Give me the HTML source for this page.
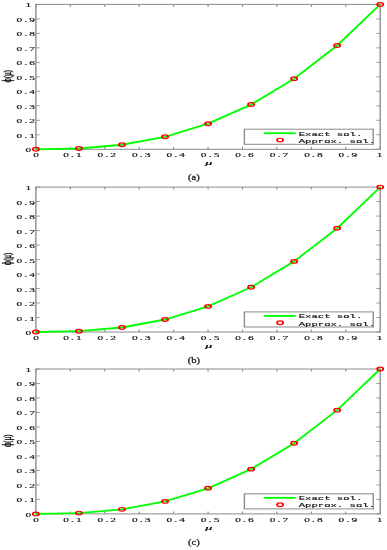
<!DOCTYPE html>
<html><head><meta charset="utf-8"><title>Figure</title>
<style>html,body{margin:0;padding:0;background:#fff;}svg{display:block;}</style></head>
<body><svg width="387" height="550" viewBox="0 0 387 550">
<rect width="387" height="550" fill="#fff"/>
<g transform="translate(0,0)">
<path d="M35.23 4.4H380.88M35.23 149.3H380.88" stroke="#8a8a8a" stroke-width="1.0" fill="none"/>
<path d="M35.9 4.4V149.3M380.2 4.4V149.3" stroke="#8a8a8a" stroke-width="1.35" fill="none"/>
<path d="M35.9 149.3v-2.5M35.9 4.4v2.5M70.33 149.3v-2.5M70.33 4.4v2.5M104.76 149.3v-2.5M104.76 4.4v2.5M139.19 149.3v-2.5M139.19 4.4v2.5M173.62 149.3v-2.5M173.62 4.4v2.5M208.05 149.3v-2.5M208.05 4.4v2.5M242.48 149.3v-2.5M242.48 4.4v2.5M276.91 149.3v-2.5M276.91 4.4v2.5M311.34 149.3v-2.5M311.34 4.4v2.5M345.77 149.3v-2.5M345.77 4.4v2.5M380.2 149.3v-2.5M380.2 4.4v2.5" stroke="#8a8a8a" stroke-width="1.1" fill="none"/>
<path d="M35.9 149.3h4.0M380.2 149.3h-4.0M35.9 134.81h4.0M380.2 134.81h-4.0M35.9 120.32h4.0M380.2 120.32h-4.0M35.9 105.83h4.0M380.2 105.83h-4.0M35.9 91.34h4.0M380.2 91.34h-4.0M35.9 76.85h4.0M380.2 76.85h-4.0M35.9 62.36h4.0M380.2 62.36h-4.0M35.9 47.87h4.0M380.2 47.87h-4.0M35.9 33.38h4.0M380.2 33.38h-4.0M35.9 18.89h4.0M380.2 18.89h-4.0M35.9 4.4h4.0M380.2 4.4h-4.0" stroke="#8a8a8a" stroke-width="0.8" fill="none"/>
<text x="36.15" y="0" transform="translate(0,157.1) scale(1,0.47)" text-anchor="middle" style="font-family:'Liberation Serif',serif;font-size:11.5px;font-weight:normal;fill:#111;stroke:#111;stroke-width:0.25px">0</text>
<text x="66.03 72.43 78.83" y="0" transform="translate(0,157.1) scale(1,0.47)" text-anchor="middle" style="font-family:'Liberation Serif',serif;font-size:11.5px;font-weight:normal;fill:#111;stroke:#111;stroke-width:0.25px">0.1</text>
<text x="100.46 106.86 113.26" y="0" transform="translate(0,157.1) scale(1,0.47)" text-anchor="middle" style="font-family:'Liberation Serif',serif;font-size:11.5px;font-weight:normal;fill:#111;stroke:#111;stroke-width:0.25px">0.2</text>
<text x="134.89 141.29 147.69" y="0" transform="translate(0,157.1) scale(1,0.47)" text-anchor="middle" style="font-family:'Liberation Serif',serif;font-size:11.5px;font-weight:normal;fill:#111;stroke:#111;stroke-width:0.25px">0.3</text>
<text x="169.32 175.72 182.12" y="0" transform="translate(0,157.1) scale(1,0.47)" text-anchor="middle" style="font-family:'Liberation Serif',serif;font-size:11.5px;font-weight:normal;fill:#111;stroke:#111;stroke-width:0.25px">0.4</text>
<text x="203.75 210.15 216.55" y="0" transform="translate(0,157.1) scale(1,0.47)" text-anchor="middle" style="font-family:'Liberation Serif',serif;font-size:11.5px;font-weight:normal;fill:#111;stroke:#111;stroke-width:0.25px">0.5</text>
<text x="238.18 244.58 250.98" y="0" transform="translate(0,157.1) scale(1,0.47)" text-anchor="middle" style="font-family:'Liberation Serif',serif;font-size:11.5px;font-weight:normal;fill:#111;stroke:#111;stroke-width:0.25px">0.6</text>
<text x="272.61 279.01 285.41" y="0" transform="translate(0,157.1) scale(1,0.47)" text-anchor="middle" style="font-family:'Liberation Serif',serif;font-size:11.5px;font-weight:normal;fill:#111;stroke:#111;stroke-width:0.25px">0.7</text>
<text x="307.04 313.44 319.84" y="0" transform="translate(0,157.1) scale(1,0.47)" text-anchor="middle" style="font-family:'Liberation Serif',serif;font-size:11.5px;font-weight:normal;fill:#111;stroke:#111;stroke-width:0.25px">0.8</text>
<text x="341.47 347.87 354.27" y="0" transform="translate(0,157.1) scale(1,0.47)" text-anchor="middle" style="font-family:'Liberation Serif',serif;font-size:11.5px;font-weight:normal;fill:#111;stroke:#111;stroke-width:0.25px">0.9</text>
<text x="379.6" y="0" transform="translate(0,157.1) scale(1,0.47)" text-anchor="middle" style="font-family:'Liberation Serif',serif;font-size:11.5px;font-weight:normal;fill:#111;stroke:#111;stroke-width:0.25px">1</text>
<text x="28.4" y="0" transform="translate(0,152.3) scale(1,0.47)" text-anchor="middle" style="font-family:'Liberation Serif',serif;font-size:11.5px;font-weight:normal;fill:#111;stroke:#111;stroke-width:0.25px">0</text>
<text x="19.4 25.8 32.2" y="0" transform="translate(0,137.81) scale(1,0.47)" text-anchor="middle" style="font-family:'Liberation Serif',serif;font-size:11.5px;font-weight:normal;fill:#111;stroke:#111;stroke-width:0.25px">0.1</text>
<text x="19.4 25.8 32.2" y="0" transform="translate(0,123.32) scale(1,0.47)" text-anchor="middle" style="font-family:'Liberation Serif',serif;font-size:11.5px;font-weight:normal;fill:#111;stroke:#111;stroke-width:0.25px">0.2</text>
<text x="19.4 25.8 32.2" y="0" transform="translate(0,108.83) scale(1,0.47)" text-anchor="middle" style="font-family:'Liberation Serif',serif;font-size:11.5px;font-weight:normal;fill:#111;stroke:#111;stroke-width:0.25px">0.3</text>
<text x="19.4 25.8 32.2" y="0" transform="translate(0,94.34) scale(1,0.47)" text-anchor="middle" style="font-family:'Liberation Serif',serif;font-size:11.5px;font-weight:normal;fill:#111;stroke:#111;stroke-width:0.25px">0.4</text>
<text x="19.4 25.8 32.2" y="0" transform="translate(0,79.85) scale(1,0.47)" text-anchor="middle" style="font-family:'Liberation Serif',serif;font-size:11.5px;font-weight:normal;fill:#111;stroke:#111;stroke-width:0.25px">0.5</text>
<text x="19.4 25.8 32.2" y="0" transform="translate(0,65.36) scale(1,0.47)" text-anchor="middle" style="font-family:'Liberation Serif',serif;font-size:11.5px;font-weight:normal;fill:#111;stroke:#111;stroke-width:0.25px">0.6</text>
<text x="19.4 25.8 32.2" y="0" transform="translate(0,50.87) scale(1,0.47)" text-anchor="middle" style="font-family:'Liberation Serif',serif;font-size:11.5px;font-weight:normal;fill:#111;stroke:#111;stroke-width:0.25px">0.7</text>
<text x="19.4 25.8 32.2" y="0" transform="translate(0,36.38) scale(1,0.47)" text-anchor="middle" style="font-family:'Liberation Serif',serif;font-size:11.5px;font-weight:normal;fill:#111;stroke:#111;stroke-width:0.25px">0.8</text>
<text x="19.4 25.8 32.2" y="0" transform="translate(0,21.89) scale(1,0.47)" text-anchor="middle" style="font-family:'Liberation Serif',serif;font-size:11.5px;font-weight:normal;fill:#111;stroke:#111;stroke-width:0.25px">0.9</text>
<text x="28.4" y="0" transform="translate(0,7.4) scale(1,0.47)" text-anchor="middle" style="font-family:'Liberation Serif',serif;font-size:11.5px;font-weight:normal;fill:#111;stroke:#111;stroke-width:0.25px">1</text>
<polyline points="35.9,149.3 78.94,148.5 121.97,144.77 165.01,136.82 208.05,123.69 251.09,104.55 294.12,78.71 337.16,45.53 380.2,4.4" fill="none" stroke="#00ff00" stroke-width="1.85" stroke-linejoin="round"/>
<path d="M31.9 149.3a4.0 2.45 0 1 0 8 0a4.0 2.45 0 1 0 -8 0ZM33.85 149.3a2.05 1.25 0 1 0 4.1 0a2.05 1.25 0 1 0 -4.1 0Z" fill="#ff0000" fill-rule="evenodd"/>
<path d="M74.94 148.5a4.0 2.45 0 1 0 8 0a4.0 2.45 0 1 0 -8 0ZM76.89 148.5a2.05 1.25 0 1 0 4.1 0a2.05 1.25 0 1 0 -4.1 0Z" fill="#ff0000" fill-rule="evenodd"/>
<path d="M117.97 144.77a4.0 2.45 0 1 0 8 0a4.0 2.45 0 1 0 -8 0ZM119.92 144.77a2.05 1.25 0 1 0 4.1 0a2.05 1.25 0 1 0 -4.1 0Z" fill="#ff0000" fill-rule="evenodd"/>
<path d="M161.01 136.82a4.0 2.45 0 1 0 8 0a4.0 2.45 0 1 0 -8 0ZM162.96 136.82a2.05 1.25 0 1 0 4.1 0a2.05 1.25 0 1 0 -4.1 0Z" fill="#ff0000" fill-rule="evenodd"/>
<path d="M204.05 123.69a4.0 2.45 0 1 0 8 0a4.0 2.45 0 1 0 -8 0ZM206 123.69a2.05 1.25 0 1 0 4.1 0a2.05 1.25 0 1 0 -4.1 0Z" fill="#ff0000" fill-rule="evenodd"/>
<path d="M247.09 104.55a4.0 2.45 0 1 0 8 0a4.0 2.45 0 1 0 -8 0ZM249.04 104.55a2.05 1.25 0 1 0 4.1 0a2.05 1.25 0 1 0 -4.1 0Z" fill="#ff0000" fill-rule="evenodd"/>
<path d="M290.12 78.71a4.0 2.45 0 1 0 8 0a4.0 2.45 0 1 0 -8 0ZM292.07 78.71a2.05 1.25 0 1 0 4.1 0a2.05 1.25 0 1 0 -4.1 0Z" fill="#ff0000" fill-rule="evenodd"/>
<path d="M333.16 45.53a4.0 2.45 0 1 0 8 0a4.0 2.45 0 1 0 -8 0ZM335.11 45.53a2.05 1.25 0 1 0 4.1 0a2.05 1.25 0 1 0 -4.1 0Z" fill="#ff0000" fill-rule="evenodd"/>
<path d="M376.2 4.4a4.0 2.45 0 1 0 8 0a4.0 2.45 0 1 0 -8 0ZM378.15 4.4a2.05 1.25 0 1 0 4.1 0a2.05 1.25 0 1 0 -4.1 0Z" fill="#ff0000" fill-rule="evenodd"/>
<rect x="244.4" y="129.2" width="128.8" height="15.1" fill="#fff"/>
<path d="M243.72 129.2H373.88M243.72 144.3H373.88" stroke="#8a8a8a" stroke-width="1.0" fill="none"/>
<path d="M244.4 129.2V144.3M373.2 129.2V144.3" stroke="#8a8a8a" stroke-width="1.35" fill="none"/>
<path d="M264.1 133.2H295.7" stroke="#00ff00" stroke-width="1.85"/>
<path d="M276.1 140.1a4.0 2.45 0 1 0 8 0a4.0 2.45 0 1 0 -8 0ZM278.05 140.1a2.05 1.25 0 1 0 4.1 0a2.05 1.25 0 1 0 -4.1 0Z" fill="#ff0000" fill-rule="evenodd"/>
<text transform="translate(298.7,135.6) scale(1,0.5)" text-anchor="start" style="font-family:'Liberation Mono',monospace;font-size:10.6px;font-weight:normal;fill:#111;stroke:#111;stroke-width:0.3px">Exact sol.</text>
<text transform="translate(298.7,142.8) scale(1,0.5)" text-anchor="start" style="font-family:'Liberation Mono',monospace;font-size:10.6px;font-weight:normal;fill:#111;stroke:#111;stroke-width:0.3px">Approx. sol.</text>
<text transform="translate(208.9,165) scale(1,0.45)" text-anchor="middle" style="font-family:'Liberation Serif',serif;font-style:italic;font-weight:bold;font-size:13px;fill:#111">μ</text>
<text transform="translate(10.5,76.3) scale(1,0.62) rotate(-90)" text-anchor="middle" style="font-family:'Liberation Serif',serif;font-weight:normal;font-size:11.5px;fill:#111;stroke:#111;stroke-width:0.5px"><tspan font-size="13.5px">ϕ</tspan><tspan font-size="10px">(</tspan>μ<tspan font-size="10px">)</tspan></text>
<text x="0" y="0" transform="translate(193.8,180) scale(1,0.86)" text-anchor="middle" style="font-family:'Liberation Serif',serif;font-size:10.5px;fill:#111;stroke:#111;stroke-width:0.3px">(a)</text>
</g><g transform="translate(0,182.7)">
<path d="M35.23 4.4H380.88M35.23 149.3H380.88" stroke="#8a8a8a" stroke-width="1.0" fill="none"/>
<path d="M35.9 4.4V149.3M380.2 4.4V149.3" stroke="#8a8a8a" stroke-width="1.35" fill="none"/>
<path d="M35.9 149.3v-2.5M35.9 4.4v2.5M70.33 149.3v-2.5M70.33 4.4v2.5M104.76 149.3v-2.5M104.76 4.4v2.5M139.19 149.3v-2.5M139.19 4.4v2.5M173.62 149.3v-2.5M173.62 4.4v2.5M208.05 149.3v-2.5M208.05 4.4v2.5M242.48 149.3v-2.5M242.48 4.4v2.5M276.91 149.3v-2.5M276.91 4.4v2.5M311.34 149.3v-2.5M311.34 4.4v2.5M345.77 149.3v-2.5M345.77 4.4v2.5M380.2 149.3v-2.5M380.2 4.4v2.5" stroke="#8a8a8a" stroke-width="1.1" fill="none"/>
<path d="M35.9 149.3h4.0M380.2 149.3h-4.0M35.9 134.81h4.0M380.2 134.81h-4.0M35.9 120.32h4.0M380.2 120.32h-4.0M35.9 105.83h4.0M380.2 105.83h-4.0M35.9 91.34h4.0M380.2 91.34h-4.0M35.9 76.85h4.0M380.2 76.85h-4.0M35.9 62.36h4.0M380.2 62.36h-4.0M35.9 47.87h4.0M380.2 47.87h-4.0M35.9 33.38h4.0M380.2 33.38h-4.0M35.9 18.89h4.0M380.2 18.89h-4.0M35.9 4.4h4.0M380.2 4.4h-4.0" stroke="#8a8a8a" stroke-width="0.8" fill="none"/>
<text x="36.15" y="0" transform="translate(0,157.1) scale(1,0.47)" text-anchor="middle" style="font-family:'Liberation Serif',serif;font-size:11.5px;font-weight:normal;fill:#111;stroke:#111;stroke-width:0.25px">0</text>
<text x="66.03 72.43 78.83" y="0" transform="translate(0,157.1) scale(1,0.47)" text-anchor="middle" style="font-family:'Liberation Serif',serif;font-size:11.5px;font-weight:normal;fill:#111;stroke:#111;stroke-width:0.25px">0.1</text>
<text x="100.46 106.86 113.26" y="0" transform="translate(0,157.1) scale(1,0.47)" text-anchor="middle" style="font-family:'Liberation Serif',serif;font-size:11.5px;font-weight:normal;fill:#111;stroke:#111;stroke-width:0.25px">0.2</text>
<text x="134.89 141.29 147.69" y="0" transform="translate(0,157.1) scale(1,0.47)" text-anchor="middle" style="font-family:'Liberation Serif',serif;font-size:11.5px;font-weight:normal;fill:#111;stroke:#111;stroke-width:0.25px">0.3</text>
<text x="169.32 175.72 182.12" y="0" transform="translate(0,157.1) scale(1,0.47)" text-anchor="middle" style="font-family:'Liberation Serif',serif;font-size:11.5px;font-weight:normal;fill:#111;stroke:#111;stroke-width:0.25px">0.4</text>
<text x="203.75 210.15 216.55" y="0" transform="translate(0,157.1) scale(1,0.47)" text-anchor="middle" style="font-family:'Liberation Serif',serif;font-size:11.5px;font-weight:normal;fill:#111;stroke:#111;stroke-width:0.25px">0.5</text>
<text x="238.18 244.58 250.98" y="0" transform="translate(0,157.1) scale(1,0.47)" text-anchor="middle" style="font-family:'Liberation Serif',serif;font-size:11.5px;font-weight:normal;fill:#111;stroke:#111;stroke-width:0.25px">0.6</text>
<text x="272.61 279.01 285.41" y="0" transform="translate(0,157.1) scale(1,0.47)" text-anchor="middle" style="font-family:'Liberation Serif',serif;font-size:11.5px;font-weight:normal;fill:#111;stroke:#111;stroke-width:0.25px">0.7</text>
<text x="307.04 313.44 319.84" y="0" transform="translate(0,157.1) scale(1,0.47)" text-anchor="middle" style="font-family:'Liberation Serif',serif;font-size:11.5px;font-weight:normal;fill:#111;stroke:#111;stroke-width:0.25px">0.8</text>
<text x="341.47 347.87 354.27" y="0" transform="translate(0,157.1) scale(1,0.47)" text-anchor="middle" style="font-family:'Liberation Serif',serif;font-size:11.5px;font-weight:normal;fill:#111;stroke:#111;stroke-width:0.25px">0.9</text>
<text x="379.6" y="0" transform="translate(0,157.1) scale(1,0.47)" text-anchor="middle" style="font-family:'Liberation Serif',serif;font-size:11.5px;font-weight:normal;fill:#111;stroke:#111;stroke-width:0.25px">1</text>
<text x="28.4" y="0" transform="translate(0,152.3) scale(1,0.47)" text-anchor="middle" style="font-family:'Liberation Serif',serif;font-size:11.5px;font-weight:normal;fill:#111;stroke:#111;stroke-width:0.25px">0</text>
<text x="19.4 25.8 32.2" y="0" transform="translate(0,137.81) scale(1,0.47)" text-anchor="middle" style="font-family:'Liberation Serif',serif;font-size:11.5px;font-weight:normal;fill:#111;stroke:#111;stroke-width:0.25px">0.1</text>
<text x="19.4 25.8 32.2" y="0" transform="translate(0,123.32) scale(1,0.47)" text-anchor="middle" style="font-family:'Liberation Serif',serif;font-size:11.5px;font-weight:normal;fill:#111;stroke:#111;stroke-width:0.25px">0.2</text>
<text x="19.4 25.8 32.2" y="0" transform="translate(0,108.83) scale(1,0.47)" text-anchor="middle" style="font-family:'Liberation Serif',serif;font-size:11.5px;font-weight:normal;fill:#111;stroke:#111;stroke-width:0.25px">0.3</text>
<text x="19.4 25.8 32.2" y="0" transform="translate(0,94.34) scale(1,0.47)" text-anchor="middle" style="font-family:'Liberation Serif',serif;font-size:11.5px;font-weight:normal;fill:#111;stroke:#111;stroke-width:0.25px">0.4</text>
<text x="19.4 25.8 32.2" y="0" transform="translate(0,79.85) scale(1,0.47)" text-anchor="middle" style="font-family:'Liberation Serif',serif;font-size:11.5px;font-weight:normal;fill:#111;stroke:#111;stroke-width:0.25px">0.5</text>
<text x="19.4 25.8 32.2" y="0" transform="translate(0,65.36) scale(1,0.47)" text-anchor="middle" style="font-family:'Liberation Serif',serif;font-size:11.5px;font-weight:normal;fill:#111;stroke:#111;stroke-width:0.25px">0.6</text>
<text x="19.4 25.8 32.2" y="0" transform="translate(0,50.87) scale(1,0.47)" text-anchor="middle" style="font-family:'Liberation Serif',serif;font-size:11.5px;font-weight:normal;fill:#111;stroke:#111;stroke-width:0.25px">0.7</text>
<text x="19.4 25.8 32.2" y="0" transform="translate(0,36.38) scale(1,0.47)" text-anchor="middle" style="font-family:'Liberation Serif',serif;font-size:11.5px;font-weight:normal;fill:#111;stroke:#111;stroke-width:0.25px">0.8</text>
<text x="19.4 25.8 32.2" y="0" transform="translate(0,21.89) scale(1,0.47)" text-anchor="middle" style="font-family:'Liberation Serif',serif;font-size:11.5px;font-weight:normal;fill:#111;stroke:#111;stroke-width:0.25px">0.9</text>
<text x="28.4" y="0" transform="translate(0,7.4) scale(1,0.47)" text-anchor="middle" style="font-family:'Liberation Serif',serif;font-size:11.5px;font-weight:normal;fill:#111;stroke:#111;stroke-width:0.25px">1</text>
<polyline points="35.9,149.3 78.94,148.5 121.97,144.77 165.01,136.82 208.05,123.69 251.09,104.55 294.12,78.71 337.16,45.53 380.2,4.4" fill="none" stroke="#00ff00" stroke-width="1.85" stroke-linejoin="round"/>
<path d="M31.9 149.3a4.0 2.45 0 1 0 8 0a4.0 2.45 0 1 0 -8 0ZM33.85 149.3a2.05 1.25 0 1 0 4.1 0a2.05 1.25 0 1 0 -4.1 0Z" fill="#ff0000" fill-rule="evenodd"/>
<path d="M74.94 148.5a4.0 2.45 0 1 0 8 0a4.0 2.45 0 1 0 -8 0ZM76.89 148.5a2.05 1.25 0 1 0 4.1 0a2.05 1.25 0 1 0 -4.1 0Z" fill="#ff0000" fill-rule="evenodd"/>
<path d="M117.97 144.77a4.0 2.45 0 1 0 8 0a4.0 2.45 0 1 0 -8 0ZM119.92 144.77a2.05 1.25 0 1 0 4.1 0a2.05 1.25 0 1 0 -4.1 0Z" fill="#ff0000" fill-rule="evenodd"/>
<path d="M161.01 136.82a4.0 2.45 0 1 0 8 0a4.0 2.45 0 1 0 -8 0ZM162.96 136.82a2.05 1.25 0 1 0 4.1 0a2.05 1.25 0 1 0 -4.1 0Z" fill="#ff0000" fill-rule="evenodd"/>
<path d="M204.05 123.69a4.0 2.45 0 1 0 8 0a4.0 2.45 0 1 0 -8 0ZM206 123.69a2.05 1.25 0 1 0 4.1 0a2.05 1.25 0 1 0 -4.1 0Z" fill="#ff0000" fill-rule="evenodd"/>
<path d="M247.09 104.55a4.0 2.45 0 1 0 8 0a4.0 2.45 0 1 0 -8 0ZM249.04 104.55a2.05 1.25 0 1 0 4.1 0a2.05 1.25 0 1 0 -4.1 0Z" fill="#ff0000" fill-rule="evenodd"/>
<path d="M290.12 78.71a4.0 2.45 0 1 0 8 0a4.0 2.45 0 1 0 -8 0ZM292.07 78.71a2.05 1.25 0 1 0 4.1 0a2.05 1.25 0 1 0 -4.1 0Z" fill="#ff0000" fill-rule="evenodd"/>
<path d="M333.16 45.53a4.0 2.45 0 1 0 8 0a4.0 2.45 0 1 0 -8 0ZM335.11 45.53a2.05 1.25 0 1 0 4.1 0a2.05 1.25 0 1 0 -4.1 0Z" fill="#ff0000" fill-rule="evenodd"/>
<path d="M376.2 4.4a4.0 2.45 0 1 0 8 0a4.0 2.45 0 1 0 -8 0ZM378.15 4.4a2.05 1.25 0 1 0 4.1 0a2.05 1.25 0 1 0 -4.1 0Z" fill="#ff0000" fill-rule="evenodd"/>
<rect x="244.4" y="129.2" width="128.8" height="15.1" fill="#fff"/>
<path d="M243.72 129.2H373.88M243.72 144.3H373.88" stroke="#8a8a8a" stroke-width="1.0" fill="none"/>
<path d="M244.4 129.2V144.3M373.2 129.2V144.3" stroke="#8a8a8a" stroke-width="1.35" fill="none"/>
<path d="M264.1 133.2H295.7" stroke="#00ff00" stroke-width="1.85"/>
<path d="M276.1 140.1a4.0 2.45 0 1 0 8 0a4.0 2.45 0 1 0 -8 0ZM278.05 140.1a2.05 1.25 0 1 0 4.1 0a2.05 1.25 0 1 0 -4.1 0Z" fill="#ff0000" fill-rule="evenodd"/>
<text transform="translate(298.7,135.6) scale(1,0.5)" text-anchor="start" style="font-family:'Liberation Mono',monospace;font-size:10.6px;font-weight:normal;fill:#111;stroke:#111;stroke-width:0.3px">Exact sol.</text>
<text transform="translate(298.7,142.8) scale(1,0.5)" text-anchor="start" style="font-family:'Liberation Mono',monospace;font-size:10.6px;font-weight:normal;fill:#111;stroke:#111;stroke-width:0.3px">Approx. sol.</text>
<text transform="translate(208.9,165) scale(1,0.45)" text-anchor="middle" style="font-family:'Liberation Serif',serif;font-style:italic;font-weight:bold;font-size:13px;fill:#111">μ</text>
<text transform="translate(10.5,76.3) scale(1,0.62) rotate(-90)" text-anchor="middle" style="font-family:'Liberation Serif',serif;font-weight:normal;font-size:11.5px;fill:#111;stroke:#111;stroke-width:0.5px"><tspan font-size="13.5px">ϕ</tspan><tspan font-size="10px">(</tspan>μ<tspan font-size="10px">)</tspan></text>
<text x="0" y="0" transform="translate(193.8,180) scale(1,0.86)" text-anchor="middle" style="font-family:'Liberation Serif',serif;font-size:10.5px;fill:#111;stroke:#111;stroke-width:0.3px">(b)</text>
</g><g transform="translate(0,364.6)">
<path d="M35.23 4.4H380.88M35.23 149.3H380.88" stroke="#8a8a8a" stroke-width="1.0" fill="none"/>
<path d="M35.9 4.4V149.3M380.2 4.4V149.3" stroke="#8a8a8a" stroke-width="1.35" fill="none"/>
<path d="M35.9 149.3v-2.5M35.9 4.4v2.5M70.33 149.3v-2.5M70.33 4.4v2.5M104.76 149.3v-2.5M104.76 4.4v2.5M139.19 149.3v-2.5M139.19 4.4v2.5M173.62 149.3v-2.5M173.62 4.4v2.5M208.05 149.3v-2.5M208.05 4.4v2.5M242.48 149.3v-2.5M242.48 4.4v2.5M276.91 149.3v-2.5M276.91 4.4v2.5M311.34 149.3v-2.5M311.34 4.4v2.5M345.77 149.3v-2.5M345.77 4.4v2.5M380.2 149.3v-2.5M380.2 4.4v2.5" stroke="#8a8a8a" stroke-width="1.1" fill="none"/>
<path d="M35.9 149.3h4.0M380.2 149.3h-4.0M35.9 134.81h4.0M380.2 134.81h-4.0M35.9 120.32h4.0M380.2 120.32h-4.0M35.9 105.83h4.0M380.2 105.83h-4.0M35.9 91.34h4.0M380.2 91.34h-4.0M35.9 76.85h4.0M380.2 76.85h-4.0M35.9 62.36h4.0M380.2 62.36h-4.0M35.9 47.87h4.0M380.2 47.87h-4.0M35.9 33.38h4.0M380.2 33.38h-4.0M35.9 18.89h4.0M380.2 18.89h-4.0M35.9 4.4h4.0M380.2 4.4h-4.0" stroke="#8a8a8a" stroke-width="0.8" fill="none"/>
<text x="36.15" y="0" transform="translate(0,157.1) scale(1,0.47)" text-anchor="middle" style="font-family:'Liberation Serif',serif;font-size:11.5px;font-weight:normal;fill:#111;stroke:#111;stroke-width:0.25px">0</text>
<text x="66.03 72.43 78.83" y="0" transform="translate(0,157.1) scale(1,0.47)" text-anchor="middle" style="font-family:'Liberation Serif',serif;font-size:11.5px;font-weight:normal;fill:#111;stroke:#111;stroke-width:0.25px">0.1</text>
<text x="100.46 106.86 113.26" y="0" transform="translate(0,157.1) scale(1,0.47)" text-anchor="middle" style="font-family:'Liberation Serif',serif;font-size:11.5px;font-weight:normal;fill:#111;stroke:#111;stroke-width:0.25px">0.2</text>
<text x="134.89 141.29 147.69" y="0" transform="translate(0,157.1) scale(1,0.47)" text-anchor="middle" style="font-family:'Liberation Serif',serif;font-size:11.5px;font-weight:normal;fill:#111;stroke:#111;stroke-width:0.25px">0.3</text>
<text x="169.32 175.72 182.12" y="0" transform="translate(0,157.1) scale(1,0.47)" text-anchor="middle" style="font-family:'Liberation Serif',serif;font-size:11.5px;font-weight:normal;fill:#111;stroke:#111;stroke-width:0.25px">0.4</text>
<text x="203.75 210.15 216.55" y="0" transform="translate(0,157.1) scale(1,0.47)" text-anchor="middle" style="font-family:'Liberation Serif',serif;font-size:11.5px;font-weight:normal;fill:#111;stroke:#111;stroke-width:0.25px">0.5</text>
<text x="238.18 244.58 250.98" y="0" transform="translate(0,157.1) scale(1,0.47)" text-anchor="middle" style="font-family:'Liberation Serif',serif;font-size:11.5px;font-weight:normal;fill:#111;stroke:#111;stroke-width:0.25px">0.6</text>
<text x="272.61 279.01 285.41" y="0" transform="translate(0,157.1) scale(1,0.47)" text-anchor="middle" style="font-family:'Liberation Serif',serif;font-size:11.5px;font-weight:normal;fill:#111;stroke:#111;stroke-width:0.25px">0.7</text>
<text x="307.04 313.44 319.84" y="0" transform="translate(0,157.1) scale(1,0.47)" text-anchor="middle" style="font-family:'Liberation Serif',serif;font-size:11.5px;font-weight:normal;fill:#111;stroke:#111;stroke-width:0.25px">0.8</text>
<text x="341.47 347.87 354.27" y="0" transform="translate(0,157.1) scale(1,0.47)" text-anchor="middle" style="font-family:'Liberation Serif',serif;font-size:11.5px;font-weight:normal;fill:#111;stroke:#111;stroke-width:0.25px">0.9</text>
<text x="379.6" y="0" transform="translate(0,157.1) scale(1,0.47)" text-anchor="middle" style="font-family:'Liberation Serif',serif;font-size:11.5px;font-weight:normal;fill:#111;stroke:#111;stroke-width:0.25px">1</text>
<text x="28.4" y="0" transform="translate(0,152.3) scale(1,0.47)" text-anchor="middle" style="font-family:'Liberation Serif',serif;font-size:11.5px;font-weight:normal;fill:#111;stroke:#111;stroke-width:0.25px">0</text>
<text x="19.4 25.8 32.2" y="0" transform="translate(0,137.81) scale(1,0.47)" text-anchor="middle" style="font-family:'Liberation Serif',serif;font-size:11.5px;font-weight:normal;fill:#111;stroke:#111;stroke-width:0.25px">0.1</text>
<text x="19.4 25.8 32.2" y="0" transform="translate(0,123.32) scale(1,0.47)" text-anchor="middle" style="font-family:'Liberation Serif',serif;font-size:11.5px;font-weight:normal;fill:#111;stroke:#111;stroke-width:0.25px">0.2</text>
<text x="19.4 25.8 32.2" y="0" transform="translate(0,108.83) scale(1,0.47)" text-anchor="middle" style="font-family:'Liberation Serif',serif;font-size:11.5px;font-weight:normal;fill:#111;stroke:#111;stroke-width:0.25px">0.3</text>
<text x="19.4 25.8 32.2" y="0" transform="translate(0,94.34) scale(1,0.47)" text-anchor="middle" style="font-family:'Liberation Serif',serif;font-size:11.5px;font-weight:normal;fill:#111;stroke:#111;stroke-width:0.25px">0.4</text>
<text x="19.4 25.8 32.2" y="0" transform="translate(0,79.85) scale(1,0.47)" text-anchor="middle" style="font-family:'Liberation Serif',serif;font-size:11.5px;font-weight:normal;fill:#111;stroke:#111;stroke-width:0.25px">0.5</text>
<text x="19.4 25.8 32.2" y="0" transform="translate(0,65.36) scale(1,0.47)" text-anchor="middle" style="font-family:'Liberation Serif',serif;font-size:11.5px;font-weight:normal;fill:#111;stroke:#111;stroke-width:0.25px">0.6</text>
<text x="19.4 25.8 32.2" y="0" transform="translate(0,50.87) scale(1,0.47)" text-anchor="middle" style="font-family:'Liberation Serif',serif;font-size:11.5px;font-weight:normal;fill:#111;stroke:#111;stroke-width:0.25px">0.7</text>
<text x="19.4 25.8 32.2" y="0" transform="translate(0,36.38) scale(1,0.47)" text-anchor="middle" style="font-family:'Liberation Serif',serif;font-size:11.5px;font-weight:normal;fill:#111;stroke:#111;stroke-width:0.25px">0.8</text>
<text x="19.4 25.8 32.2" y="0" transform="translate(0,21.89) scale(1,0.47)" text-anchor="middle" style="font-family:'Liberation Serif',serif;font-size:11.5px;font-weight:normal;fill:#111;stroke:#111;stroke-width:0.25px">0.9</text>
<text x="28.4" y="0" transform="translate(0,7.4) scale(1,0.47)" text-anchor="middle" style="font-family:'Liberation Serif',serif;font-size:11.5px;font-weight:normal;fill:#111;stroke:#111;stroke-width:0.25px">1</text>
<polyline points="35.9,149.3 78.94,148.5 121.97,144.77 165.01,136.82 208.05,123.69 251.09,104.55 294.12,78.71 337.16,45.53 380.2,4.4" fill="none" stroke="#00ff00" stroke-width="1.85" stroke-linejoin="round"/>
<path d="M31.9 149.3a4.0 2.45 0 1 0 8 0a4.0 2.45 0 1 0 -8 0ZM33.85 149.3a2.05 1.25 0 1 0 4.1 0a2.05 1.25 0 1 0 -4.1 0Z" fill="#ff0000" fill-rule="evenodd"/>
<path d="M74.94 148.5a4.0 2.45 0 1 0 8 0a4.0 2.45 0 1 0 -8 0ZM76.89 148.5a2.05 1.25 0 1 0 4.1 0a2.05 1.25 0 1 0 -4.1 0Z" fill="#ff0000" fill-rule="evenodd"/>
<path d="M117.97 144.77a4.0 2.45 0 1 0 8 0a4.0 2.45 0 1 0 -8 0ZM119.92 144.77a2.05 1.25 0 1 0 4.1 0a2.05 1.25 0 1 0 -4.1 0Z" fill="#ff0000" fill-rule="evenodd"/>
<path d="M161.01 136.82a4.0 2.45 0 1 0 8 0a4.0 2.45 0 1 0 -8 0ZM162.96 136.82a2.05 1.25 0 1 0 4.1 0a2.05 1.25 0 1 0 -4.1 0Z" fill="#ff0000" fill-rule="evenodd"/>
<path d="M204.05 123.69a4.0 2.45 0 1 0 8 0a4.0 2.45 0 1 0 -8 0ZM206 123.69a2.05 1.25 0 1 0 4.1 0a2.05 1.25 0 1 0 -4.1 0Z" fill="#ff0000" fill-rule="evenodd"/>
<path d="M247.09 104.55a4.0 2.45 0 1 0 8 0a4.0 2.45 0 1 0 -8 0ZM249.04 104.55a2.05 1.25 0 1 0 4.1 0a2.05 1.25 0 1 0 -4.1 0Z" fill="#ff0000" fill-rule="evenodd"/>
<path d="M290.12 78.71a4.0 2.45 0 1 0 8 0a4.0 2.45 0 1 0 -8 0ZM292.07 78.71a2.05 1.25 0 1 0 4.1 0a2.05 1.25 0 1 0 -4.1 0Z" fill="#ff0000" fill-rule="evenodd"/>
<path d="M333.16 45.53a4.0 2.45 0 1 0 8 0a4.0 2.45 0 1 0 -8 0ZM335.11 45.53a2.05 1.25 0 1 0 4.1 0a2.05 1.25 0 1 0 -4.1 0Z" fill="#ff0000" fill-rule="evenodd"/>
<path d="M376.2 4.4a4.0 2.45 0 1 0 8 0a4.0 2.45 0 1 0 -8 0ZM378.15 4.4a2.05 1.25 0 1 0 4.1 0a2.05 1.25 0 1 0 -4.1 0Z" fill="#ff0000" fill-rule="evenodd"/>
<rect x="244.4" y="129.2" width="128.8" height="15.1" fill="#fff"/>
<path d="M243.72 129.2H373.88M243.72 144.3H373.88" stroke="#8a8a8a" stroke-width="1.0" fill="none"/>
<path d="M244.4 129.2V144.3M373.2 129.2V144.3" stroke="#8a8a8a" stroke-width="1.35" fill="none"/>
<path d="M264.1 133.2H295.7" stroke="#00ff00" stroke-width="1.85"/>
<path d="M276.1 140.1a4.0 2.45 0 1 0 8 0a4.0 2.45 0 1 0 -8 0ZM278.05 140.1a2.05 1.25 0 1 0 4.1 0a2.05 1.25 0 1 0 -4.1 0Z" fill="#ff0000" fill-rule="evenodd"/>
<text transform="translate(298.7,135.6) scale(1,0.5)" text-anchor="start" style="font-family:'Liberation Mono',monospace;font-size:10.6px;font-weight:normal;fill:#111;stroke:#111;stroke-width:0.3px">Exact sol.</text>
<text transform="translate(298.7,142.8) scale(1,0.5)" text-anchor="start" style="font-family:'Liberation Mono',monospace;font-size:10.6px;font-weight:normal;fill:#111;stroke:#111;stroke-width:0.3px">Approx. sol.</text>
<text transform="translate(208.9,165) scale(1,0.45)" text-anchor="middle" style="font-family:'Liberation Serif',serif;font-style:italic;font-weight:bold;font-size:13px;fill:#111">μ</text>
<text transform="translate(10.5,76.3) scale(1,0.62) rotate(-90)" text-anchor="middle" style="font-family:'Liberation Serif',serif;font-weight:normal;font-size:11.5px;fill:#111;stroke:#111;stroke-width:0.5px"><tspan font-size="13.5px">ϕ</tspan><tspan font-size="10px">(</tspan>μ<tspan font-size="10px">)</tspan></text>
<text x="0" y="0" transform="translate(193.8,180) scale(1,0.86)" text-anchor="middle" style="font-family:'Liberation Serif',serif;font-size:10.5px;fill:#111;stroke:#111;stroke-width:0.3px">(c)</text>
</g>
</svg></body></html>
